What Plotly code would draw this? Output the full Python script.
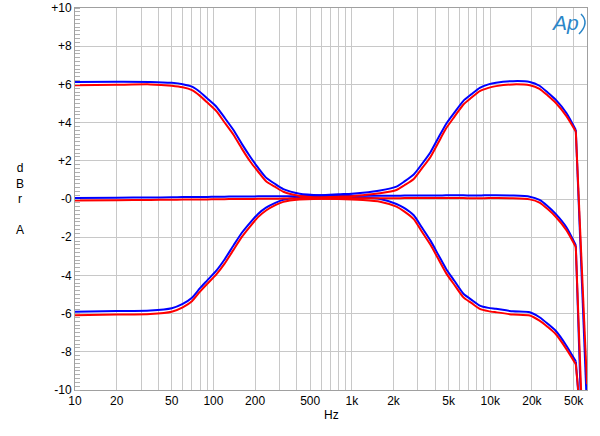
import plotly.graph_objects as go

# sweep frequencies (Hz)
FREQ = [10, 20, 35, 50, 60, 70, 80, 90, 105, 120, 140, 160, 185, 210, 240, 280, 320, 420, 600, 800,
        1000, 1200, 1600, 2100, 2400, 2800, 3200, 3700, 4200, 4800, 5500, 6400, 7300, 8400, 9700,
        11000, 14600, 19300, 22700, 26000, 29700, 35500, 41500, 50000]
BASS_FREQ = [10, 20, 35, 50, 60, 70, 80, 90, 105, 120, 140, 160, 185, 210, 240, 280, 320, 420, 600, 800, 1000]
TREBLE_FREQ = [420, 600, 800, 1000, 1200, 1600, 2100, 2400, 2800, 3200, 3700, 4200, 4800, 5500, 6400,
               7300, 8400, 9700, 11000, 14600, 19300, 22700, 26000, 29700, 35500, 41500, 50000]

# flat (controls centred)
FLAT_L = [0.05, 0.07, 0.08, 0.09, 0.1, 0.1, 0.11, 0.11, 0.12, 0.12, 0.13, 0.13, 0.13, 0.14, 0.14, 0.14,
          0.15, 0.15, 0.16, 0.16, 0.17, 0.17, 0.17, 0.17, 0.18, 0.18, 0.18, 0.18, 0.18, 0.19, 0.19, 0.19,
          0.18, 0.18, 0.2, 0.2, 0.18, 0.12, -0.05, -0.38, -0.78, -1.48, -2.42, -20.5]
FLAT_R = [-0.08, -0.06, -0.05, -0.04, -0.03, -0.03, -0.02, -0.02, -0.01, -0.01, 0.0, 0.0, 0.0, 0.01, 0.01,
          0.01, 0.02, 0.02, 0.03, 0.03, 0.04, 0.04, 0.04, 0.04, 0.05, 0.05, 0.05, 0.05, 0.05, 0.05, 0.05,
          0.05, 0.04, 0.04, 0.05, 0.05, 0.04, -0.02, -0.19, -0.53, -0.93, -1.63, -2.51, -18.4]

# bass max / min
BASS_BOOST_L = [6.12, 6.14, 6.13, 6.08, 6.01, 5.88, 5.6, 5.27, 4.83, 4.27, 3.6, 2.9, 2.2, 1.64, 1.12,
                0.78, 0.52, 0.28, 0.19, 0.17, 0.17]
BASS_BOOST_R = [5.95, 5.98, 6.0, 5.93, 5.85, 5.7, 5.4, 5.06, 4.6, 4.02, 3.35, 2.65, 1.95, 1.44, 0.93,
                0.63, 0.38, 0.16, 0.08, 0.06, 0.05]
BASS_CUT_L = [-5.9, -5.87, -5.84, -5.72, -5.49, -5.17, -4.67, -4.27, -3.75, -3.18, -2.42, -1.78, -1.22,
              -0.78, -0.45, -0.2, -0.04, 0.08, 0.13, 0.15, 0.16]
BASS_CUT_R = [-6.08, -6.05, -6.02, -5.9, -5.67, -5.35, -4.85, -4.45, -3.95, -3.4, -2.65, -2.0, -1.42,
              -0.95, -0.6, -0.32, -0.15, -0.03, 0.01, 0.02, 0.03]

# treble max / min
TREBLE_BOOST_L = [0.15, 0.2, 0.25, 0.28, 0.33, 0.45, 0.65, 0.92, 1.28, 1.82, 2.45, 3.18, 3.93, 4.52,
                  5.14, 5.48, 5.82, 6.0, 6.09, 6.17, 6.13, 5.93, 5.58, 5.2, 4.5, 3.62, -11.0]
TREBLE_BOOST_R = [0.02, 0.08, 0.12, 0.15, 0.2, 0.3, 0.47, 0.72, 1.05, 1.59, 2.2, 2.93, 3.7, 4.3,
                  4.95, 5.3, 5.65, 5.82, 5.91, 6.0, 5.95, 5.77, 5.42, 5.04, 4.34, 3.54, -9.7]
TREBLE_CUT_L = [0.15, 0.15, 0.13, 0.11, 0.08, 0.0, -0.26, -0.48, -0.85, -1.48, -2.18, -2.9, -3.66, -4.28,
                -4.96, -5.27, -5.58, -5.7, -5.75, -5.88, -5.93, -6.19, -6.53, -6.9, -7.68, -8.5, -16.0]
TREBLE_CUT_R = [0.02, 0.02, 0.0, -0.02, -0.05, -0.14, -0.4, -0.66, -1.05, -1.7, -2.4, -3.12, -3.88, -4.49,
                -5.15, -5.44, -5.75, -5.87, -5.93, -6.05, -6.1, -6.37, -6.7, -7.07, -7.86, -8.65, -14.9]

X_TICKS = [10, 20, 30, 40, 50, 60, 70, 80, 90, 100, 200, 300, 400, 500, 600, 700, 800, 900,
           1000, 2000, 3000, 4000, 5000, 6000, 7000, 8000, 9000, 10000, 20000, 30000, 40000]
X_LABELS = {10: "10", 20: "20", 50: "50", 100: "100", 200: "200", 500: "500",
            1000: "1k", 2000: "2k", 5000: "5k", 10000: "10k", 20000: "20k"}
Y_TICKS = [10, 8, 6, 4, 2, 0, -2, -4, -6, -8, -10]
Y_LABELS = ["+10", "+8", "+6", "+4", "+2", "-0", "-2", "-4", "-6", "-8", "-10"]

BLUE = "#0000ff"
RED = "#ff0000"
LOGO = "#2b86c8"
FONT = dict(family="Liberation Sans, Arial", size=12, color="black")


def add_curve(x, y, color):
    # smooth through the response, keep the steep ultrasonic drop straight
    fig.add_trace(go.Scatter(x=x[:-1], y=y[:-1], mode="lines",
                             line=dict(color=color, width=2, shape="spline", smoothing=0.6),
                             showlegend=False, hoverinfo="skip"))
    fig.add_trace(go.Scatter(x=x[-2:], y=y[-2:], mode="lines",
                             line=dict(color=color, width=2),
                             showlegend=False, hoverinfo="skip"))


fig = go.Figure()

# left channel (blue) first, right channel (red) on top
for x, y in [(FREQ, FLAT_L), (BASS_FREQ, BASS_BOOST_L), (BASS_FREQ, BASS_CUT_L),
             (TREBLE_FREQ, TREBLE_BOOST_L), (TREBLE_FREQ, TREBLE_CUT_L)]:
    add_curve(x, y, BLUE)
for x, y in [(FREQ, FLAT_R), (BASS_FREQ, BASS_BOOST_R), (BASS_FREQ, BASS_CUT_R),
             (TREBLE_FREQ, TREBLE_BOOST_R), (TREBLE_FREQ, TREBLE_CUT_R)]:
    add_curve(x, y, RED)

fig.update_xaxes(type="log", range=[1, 4.69897], automargin=False,
                 tickvals=X_TICKS, ticktext=[X_LABELS.get(v, "") for v in X_TICKS],
                 showgrid=True, gridcolor="#c8c8c8", gridwidth=1,
                 showline=True, mirror=True, linecolor="#a0a0a0", linewidth=1,
                 ticks="", zeroline=False, tickfont=FONT)
fig.update_yaxes(range=[-10, 10], tickvals=Y_TICKS, ticktext=Y_LABELS, automargin=False,
                 showgrid=True, gridcolor="#c8c8c8", gridwidth=1,
                 showline=True, mirror=True, linecolor="#a0a0a0", linewidth=1,
                 ticks="", zeroline=False,
                 minor=dict(dtick=0.2, ticks="inside", ticklen=5, tickcolor="#b0b0b0", showgrid=False),
                 tickfont=FONT)

fig.update_layout(
    width=600, height=436,
    margin=dict(l=75, r=13, t=8, b=46),
    plot_bgcolor="white", paper_bgcolor="white",
    annotations=[
        dict(text="Hz", xref="paper", yref="paper", x=0.5, y=-0.065, yanchor="middle",
             showarrow=False, font=FONT),
        dict(text="d<br>B<br>r<br><br>A", xref="paper", yref="y", x=-0.107, y=0,
             xanchor="center", yanchor="middle", showarrow=False, font=FONT),
        dict(text="50k", xref="paper", yref="paper", x=1, y=0, yshift=-11, xshift=-1,
             xanchor="right", yanchor="middle", showarrow=False, font=FONT),
        dict(text="<i>Ap</i>", xref="paper", yref="paper", x=0.958, y=0.961,
             xanchor="center", yanchor="middle",
             showarrow=False, font=dict(family="Liberation Sans, Arial", size=21, color=LOGO)),
    ],
    shapes=[
        # swoosh of the logo
        dict(type="path", xref="paper", yref="paper", xsizemode="pixel", ysizemode="pixel",
             xanchor=1, yanchor=1, path="M -6,-6 Q 3,-15 -8,-26",
             line=dict(color=LOGO, width=1.5)),
    ],
)

# page body has a default margin; drop it so the figure sits at the window corner
fig.write_html("out.html", config={"displayModeBar": False},
               post_script="document.body.style.margin='0px';")
